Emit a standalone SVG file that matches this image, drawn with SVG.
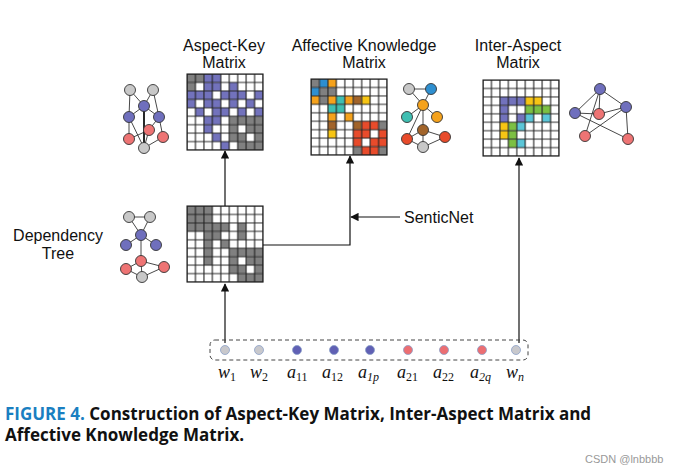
<svg xmlns="http://www.w3.org/2000/svg" width="691" height="474" viewBox="0 0 691 474">
<defs>
<pattern id="grid" width="10" height="10" patternUnits="userSpaceOnUse"><path d="M10 0V10H0V0H10" fill="none" stroke="#222" stroke-width="1.3"/></pattern>
<marker id="ah" viewBox="0 0 10 10" refX="9" refY="5" markerWidth="7" markerHeight="7" orient="auto"><path d="M0 0L10 5L0 10z" fill="#111"/></marker>
</defs>
<style>
text{font-family:"Liberation Sans",Arial,sans-serif;fill:#111}
.t{font-size:16px;text-anchor:middle}
.g{fill:#808080}.b{fill:#7272bc}.bl{fill:#2e8fd0}.o{fill:#f5a21c}.c{fill:#3fbfb2}.br{fill:#a2642a}.y{fill:#f7c514}.r{fill:#e84b2b}.gr{fill:#7cc043}.cy{fill:#5bc6d8}
.e{stroke:#333;stroke-width:0.9;fill:none}
.n{stroke:#333;stroke-width:0.9}
.ng{fill:#c8c8c8}.nb{fill:#6f6fbd}.nr{fill:#ee7474}.nbl{fill:#2e8fd0}.no{fill:#f5a21c}.nc{fill:#3fbfb2}.nbr{fill:#a2642a}.nre{fill:#e84b2b}
.w{font-family:"Liberation Serif",serif;font-style:italic;font-size:18px}
.s{font-size:12px}
</style>
<rect width="691" height="474" fill="#fff"/>
<g id="titles">
<text class="t" x="224" y="51">Aspect-Key</text><text class="t" x="224" y="68">Matrix</text>
<text class="t" x="364" y="51">Affective Knowledge</text><text class="t" x="364" y="68">Matrix</text>
<text class="t" x="518" y="51">Inter-Aspect</text><text class="t" x="518" y="68">Matrix</text>
<text class="t" x="58" y="241">Dependency</text><text class="t" x="58" y="259">Tree</text>
<text x="404" y="223" style="font-size:16px">SenticNet</text>
</g>
<g id="aspect-key-matrix" transform="translate(187,74) scale(0.845)">
<rect width="90" height="90" fill="#fff"/>
<g class="g"><rect x="0" y="0" width="20" height="10"/><rect x="0" y="10" width="10" height="10"/><rect x="50" y="50" width="40" height="10"/><rect x="50" y="60" width="10" height="10"/><rect x="70" y="60" width="20" height="10"/><rect x="50" y="70" width="20" height="10"/><rect x="80" y="70" width="10" height="10"/><rect x="60" y="80" width="30" height="10"/></g>
<g class="b"><rect x="20" y="0" width="20" height="10"/><rect x="20" y="10" width="20" height="10"/><rect x="50" y="10" width="10" height="10"/><rect x="0" y="20" width="30" height="10"/><rect x="40" y="20" width="30" height="10"/><rect x="80" y="20" width="10" height="10"/><rect x="0" y="30" width="10" height="10"/><rect x="20" y="30" width="20" height="10"/><rect x="50" y="30" width="10" height="10"/><rect x="70" y="30" width="10" height="10"/><rect x="10" y="40" width="10" height="10"/><rect x="30" y="40" width="20" height="10"/><rect x="60" y="40" width="10" height="10"/><rect x="80" y="40" width="10" height="10"/><rect x="20" y="50" width="20" height="10"/><rect x="20" y="60" width="10" height="10"/><rect x="30" y="70" width="10" height="10"/><rect x="40" y="80" width="10" height="10"/></g>
<rect width="90" height="90" fill="url(#grid)" stroke="#222" stroke-width="1.3"/>
</g>
<g id="dependency-matrix" transform="translate(187,206) scale(0.845)">
<rect width="90" height="90" fill="#fff"/>
<g class="g"><rect x="0" y="0" width="30" height="20"/><rect x="0" y="20" width="50" height="10"/><rect x="60" y="20" width="10" height="10"/><rect x="20" y="30" width="20" height="10"/><rect x="60" y="30" width="10" height="10"/><rect x="20" y="40" width="10" height="10"/><rect x="40" y="40" width="10" height="10"/><rect x="20" y="50" width="10" height="20"/><rect x="50" y="50" width="40" height="10"/><rect x="50" y="60" width="10" height="20"/><rect x="70" y="60" width="20" height="10"/><rect x="60" y="70" width="10" height="10"/><rect x="80" y="70" width="10" height="10"/><rect x="60" y="80" width="30" height="10"/></g>
<rect width="90" height="90" fill="url(#grid)" stroke="#222" stroke-width="1.3"/>
</g>
<g id="affective-matrix" transform="translate(311,79) scale(0.845)">
<rect width="90" height="90" fill="#fff"/>
<rect class="g" x="0" y="0" width="10" height="10"/><rect class="bl" x="10" y="0" width="10" height="10"/><rect class="o" x="20" y="0" width="10" height="10"/>
<rect class="bl" x="0" y="10" width="10" height="10"/><rect class="g" x="10" y="10" width="20" height="10"/>
<rect class="o" x="0" y="20" width="10" height="10"/><rect class="g" x="10" y="20" width="10" height="10"/><rect class="o" x="20" y="20" width="10" height="10"/><rect class="c" x="30" y="20" width="10" height="10"/><rect class="o" x="40" y="20" width="10" height="10"/><rect class="br" x="50" y="20" width="10" height="10"/><rect class="y" x="60" y="20" width="10" height="10"/>
<rect class="c" x="20" y="30" width="20" height="10"/>
<rect class="o" x="20" y="40" width="10" height="10"/><rect class="o" x="40" y="40" width="10" height="10"/>
<rect class="br" x="20" y="50" width="10" height="10"/><rect class="br" x="50" y="50" width="10" height="10"/><rect class="r" x="60" y="50" width="20" height="10"/><rect class="g" x="80" y="50" width="10" height="10"/>
<rect class="y" x="20" y="60" width="10" height="10"/><rect class="r" x="50" y="60" width="20" height="10"/><rect class="r" x="80" y="60" width="10" height="10"/>
<rect class="r" x="50" y="70" width="10" height="10"/><rect class="r" x="70" y="70" width="20" height="10"/>
<rect class="g" x="50" y="80" width="10" height="10"/><rect class="r" x="60" y="80" width="20" height="10"/><rect class="g" x="80" y="80" width="10" height="10"/>
<rect width="90" height="90" fill="url(#grid)" stroke="#222" stroke-width="1.3"/>
</g>
<g id="inter-aspect-matrix" transform="translate(483,80) scale(0.845)">
<rect width="90" height="90" fill="#fff"/>
<rect class="b" x="20" y="20" width="30" height="10"/><rect class="y" x="50" y="20" width="20" height="10"/>
<rect class="b" x="20" y="30" width="10" height="10"/><rect class="gr" x="50" y="30" width="30" height="10"/>
<rect class="b" x="20" y="40" width="10" height="10"/><rect class="b" x="40" y="40" width="10" height="10"/><rect class="cy" x="50" y="40" width="10" height="10"/><rect class="cy" x="70" y="40" width="10" height="10"/>
<rect class="y" x="20" y="50" width="10" height="10"/><rect class="gr" x="30" y="50" width="10" height="10"/><rect class="cy" x="40" y="50" width="10" height="10"/>
<rect class="y" x="20" y="60" width="10" height="10"/><rect class="gr" x="30" y="60" width="10" height="10"/>
<rect class="gr" x="30" y="70" width="10" height="10"/><rect class="cy" x="40" y="70" width="10" height="10"/>
<rect width="90" height="90" fill="url(#grid)" stroke="#222" stroke-width="1.3"/>
</g>
<g id="aspect-key-graph">
<path class="e" d="M130 90L144 106L153 90M130 90L129 117M153 90L159 117M144 106L129 117M144 106L159 117M129 117L129 139M129 117L144 148M159 117L149 130M159 117L163 137M129 139L149 130M163 137L144 148M149 130L144 148"/>
<path d="M144 106L144 148" stroke="#111" stroke-width="1.8"/>
<g class="n"><circle class="ng" cx="130" cy="90" r="5.5"/><circle class="ng" cx="153" cy="90" r="5.5"/><circle class="nb" cx="144" cy="106" r="5.5"/><circle class="nb" cx="129" cy="117" r="5.5"/><circle class="nb" cx="159" cy="117" r="5.5"/><circle class="nr" cx="149" cy="130" r="5.5"/><circle class="nr" cx="129" cy="139" r="5.5"/><circle class="nr" cx="163" cy="137" r="5.5"/><circle class="ng" cx="144" cy="148" r="5.5"/></g>
</g>
<g id="dependency-graph">
<path class="e" d="M129 217L150 217L141 235L129 217M141 235L126 245M141 235L156 245M141 235L141 261M141 261L126 269M141 261L164 267M126 269L142 277L164 267M141 261L142 277"/>
<g class="n"><circle class="ng" cx="129" cy="217" r="5.5"/><circle class="ng" cx="150" cy="217" r="5.5"/><circle class="nb" cx="141" cy="235" r="5.5"/><circle class="nb" cx="126" cy="245" r="5.5"/><circle class="nb" cx="156" cy="245" r="5.5"/><circle class="nr" cx="141" cy="261" r="5.5"/><circle class="nr" cx="126" cy="269" r="5.5"/><circle class="nr" cx="164" cy="267" r="5.5"/><circle class="ng" cx="142" cy="277" r="5.5"/></g>
</g>
<g id="affective-graph">
<path class="e" d="M409 89L431 89L423 105L409 89M423 105L407 117M423 105L437 117M423 105L423 130M423 105L407 139M423 130L407 139M423 130L445 137M407 139L423 147L445 137M423 130L423 147"/>
<g class="n"><circle class="ng" cx="409" cy="89" r="5.5"/><circle class="nbl" cx="431" cy="89" r="5.5"/><circle class="no" cx="423" cy="105" r="5.5"/><circle class="nc" cx="407" cy="117" r="5.5"/><circle class="no" cx="437" cy="117" r="5.5"/><circle class="nbr" cx="423" cy="130" r="5.5"/><circle class="nre" cx="407" cy="139" r="5.5"/><circle class="nre" cx="445" cy="137" r="5.5"/><circle class="ng" cx="423" cy="147" r="5.5"/></g>
</g>
<g id="inter-graph">
<path class="e" d="M600 89L575 113M600 89L626 107M600 89L599 114M600 89L585 136M575 113L599 114L626 107M575 113L628 139M626 107L628 139M626 107L585 136"/>
<g class="n"><circle class="nb" cx="600" cy="89" r="5.5"/><circle class="nb" cx="575" cy="113" r="5.5"/><circle class="nr" cx="599" cy="114" r="5.5"/><circle class="nb" cx="626" cy="107" r="5.5"/><circle class="nr" cx="585" cy="136" r="5.5"/><circle class="nr" cx="628" cy="139" r="5.5"/></g>
</g>
<g id="connectors" stroke="#111" stroke-width="1.2" fill="none">
<path d="M225 206V151" marker-end="url(#ah)"/>
<path d="M263 245H350V156" marker-end="url(#ah)"/>
<path d="M400 217H351" marker-end="url(#ah)"/>
<path d="M225 343V284" marker-end="url(#ah)"/>
<path d="M519 343V158" marker-end="url(#ah)"/>
</g>
<g id="inputs">
<rect x="210" y="340" width="318" height="20" rx="5" fill="none" stroke="#444" stroke-dasharray="4 3"/>
<g stroke="#8aa0c8" stroke-width="0.8">
<circle cx="225" cy="350" r="4.5" fill="#c8c8cc"/><circle cx="259" cy="350" r="4.5" fill="#c8c8cc"/>
<circle cx="297" cy="350" r="4.5" fill="#6060b4"/><circle cx="334" cy="350" r="4.5" fill="#6060b4"/><circle cx="370" cy="350" r="4.5" fill="#6060b4"/>
<circle cx="408" cy="350" r="4.5" fill="#ec6e72"/><circle cx="444" cy="350" r="4.5" fill="#ec6e72"/><circle cx="482" cy="350" r="4.5" fill="#ec6e72"/>
<circle cx="516" cy="350" r="4.5" fill="#c8c8cc"/></g>
<text class="w" x="218" y="378">w<tspan class="s" font-style="normal" dy="3">1</tspan></text>
<text class="w" x="250" y="378">w<tspan class="s" font-style="normal" dy="3">2</tspan></text>
<text class="w" x="287" y="378">a<tspan class="s" font-style="normal" dy="3">11</tspan></text>
<text class="w" x="322" y="378">a<tspan class="s" font-style="normal" dy="3">12</tspan></text>
<text class="w" x="358" y="378">a<tspan class="s" dy="3">1p</tspan></text>
<text class="w" x="397" y="378">a<tspan class="s" font-style="normal" dy="3">21</tspan></text>
<text class="w" x="433" y="378">a<tspan class="s" font-style="normal" dy="3">22</tspan></text>
<text class="w" x="470" y="378">a<tspan class="s" dy="3">2q</tspan></text>
<text class="w" x="506" y="378">w<tspan class="s" dy="3">n</tspan></text>
</g>
<g id="caption" style="font-weight:bold;font-size:17px;font-family:'Open Sans',sans-serif">
<text x="5" y="420" style="font-family:'Open Sans',sans-serif"><tspan style="fill:#1a7fc1">FIGURE 4.</tspan>  Construction of Aspect-Key Matrix, Inter-Aspect Matrix and</text>
<text x="5" y="441" style="font-family:'Open Sans',sans-serif">Affective Knowledge Matrix.</text>
</g>
<text x="585" y="463" style="font-size:11px;fill:#999">CSDN @lnbbbb</text>
</svg>
